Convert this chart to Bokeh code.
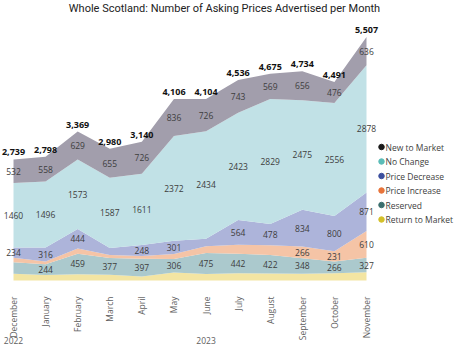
import math
from bokeh.plotting import figure
from bokeh.models import ColumnDataSource
from bokeh.core.properties import value
from bokeh.embed import file_html
from bokeh.resources import INLINE

months = ["December", "January", "February", "March", "April", "May", "June",
          "July", "August", "September", "October", "November"]
years = ["2022", "2023"]
year_span = [(0, 0), (1, 11)]

# stacked bottom -> top
series = ["Return to Market", "Reserved", "Price Increase", "Price Decrease", "No Change", "New to Market"]
return_to_market = [150, 124, 144, 130, 93, 181, 149, 164, 157, 155, 162, 185]
reserved = [263, 244, 459, 377, 397, 306, 475, 442, 422, 348, 266, 327]
price_increase = [100, 60, 120, 70, 65, 110, 150, 200, 220, 266, 231, 610]
price_decrease = [234, 316, 444, 161, 248, 301, 170, 564, 478, 834, 800, 871]
no_change = [1460, 1496, 1573, 1587, 1611, 2372, 2434, 2423, 2829, 2475, 2556, 2878]
new_to_market = [532, 558, 629, 655, 726, 836, 726, 743, 569, 656, 476, 636]
totals = [2739, 2798, 3369, 2980, 3140, 4106, 4104, 4536, 4675, 4734, 4491, 5507]

# which band labels are shown
show = {
    "Return to Market": [False] * 12,
    "Reserved": [False] + [True] * 11,
    "Price Increase": [False] * 9 + [True] * 3,
    "Price Decrease": [True, True, True, False, True, True, False, True, True, True, True, True],
    "No Change": [True] * 12,
    "New to Market": [True] * 12,
}

area_colors = ["#f3e5a3", "#abc9cd", "#f5c4a6", "#adb4da", "#c1e1e6", "#a29eac"]
dot_colors = ["#d4c12a", "#3b6f6e", "#e8743b", "#3c4f9e", "#5bbcb8", "#1a1a1a"]

W, H = 458, 346
# page->data mapping (page coords include 8px margin)
X0 = 21.0                 # page x of December
X1 = 374.0                # page x of November
DX = (X1 - X0) / 11.0     # px per month
Y0, DY = 288.0, 0.0442    # page y of zero, px per unit


def px(xp):
    return (xp - X0) / DX


def py(yp):
    return (Y0 - yp) / DY


p = figure(width=W, height=H, output_backend="svg", toolbar_location=None,
           x_range=(px(8), px(8 + W)), y_range=(py(8 + H), py(8)),
           x_axis_location=None, y_axis_location=None, min_border=0)
p.outline_line_color = None
p.xgrid.visible = False
p.ygrid.visible = False
p.background_fill_color = "white"

xs = list(range(len(months)))
data = dict(x=xs)
vals = [return_to_market, reserved, price_increase, price_decrease, no_change, new_to_market]
for name, v in zip(series, vals):
    data[name] = v
src = ColumnDataSource(data)
p.varea_stack(stackers=series, x="x", color=area_colors, source=src)

FONT = value("Open Sans")

# band labels
lx, ly, lt = [], [], []
base = [0] * 12
for name, v in zip(series, vals):
    for i in range(12):
        if show[name][i]:
            lx.append(xs[i])
            ly.append(base[i] + v[i] / 2)
            lt.append(str(v[i]))
    base = [b + a for b, a in zip(base, v)]
p.text(x=lx, y=ly, text=lt, text_align="center", text_baseline="middle",
       text_font=FONT, text_font_size="8.5px", text_color="#3d3d3d")

# totals
tops = base
p.text(x=xs, y=[t + (7 / DY) for t in tops], text=[f"{t:,}" for t in totals],
       text_align="center", text_baseline="middle", text_font=FONT,
       text_font_size="9px", text_font_style="bold", text_color="#111111")

# month labels
p.text(x=xs, y=[py(304)] * 12, text=months, angle=math.pi / 2,
       text_align="right", text_baseline="middle", text_font=FONT,
       text_font_size="8.5px", text_color="#606060")

# year labels
p.text(x=[(a + b) / 2 for a, b in year_span], y=[py(348)] * 2, text=years,
       text_align="center", text_baseline="middle", text_font=FONT,
       text_font_size="8.5px", text_color="#606060")

# title
p.text(x=[px(232)], y=[py(9)], text=["Whole Scotland: Number of Asking Prices Advertised per Month"],
       text_align="center", text_baseline="top", text_font=value("Roboto"),
       text_font_size="11px", text_color="#222222")

# legend (top item first)
leg_names = series[::-1]
leg_dots = dot_colors[::-1]
leg_y = [py(154.5 + 14.5 * i) for i in range(len(leg_names))]
p.scatter(x=[px(389)] * len(leg_names), y=leg_y, size=5.5, color=leg_dots)
p.text(x=[px(393)] * len(leg_names), y=leg_y, text=leg_names, text_align="left",
       text_baseline="middle", text_font=FONT, text_font_size="8.5px", text_color="#404040")

open("out.html", "w").write(file_html(p, INLINE))
